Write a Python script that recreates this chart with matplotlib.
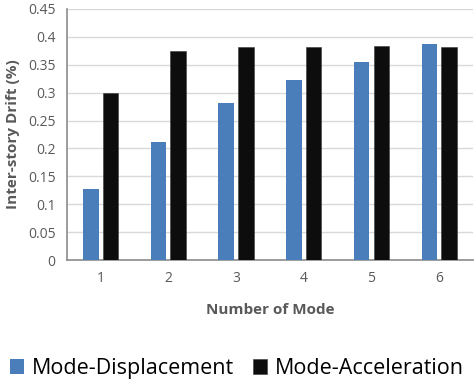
import numpy as np
import matplotlib
matplotlib.use("Agg")
import matplotlib.pyplot as plt

plt.rcParams["font.family"] = ["Open Sans", "DejaVu Sans"]

modes = ["1", "2", "3", "4", "5", "6"]
mode_displacement = [0.127, 0.211, 0.281, 0.323, 0.355, 0.387]
mode_acceleration = [0.300, 0.375, 0.382, 0.382, 0.383, 0.382]

fig = plt.figure(figsize=(4.74, 3.87), dpi=100)
ax = fig.add_axes([0.141, 0.328, 0.857, 0.649])

x = np.arange(1, len(modes) + 1)
w = 0.23
ax.bar(x - 0.145, mode_displacement, w, color="#4a7ebb", label="Mode-Displacement", zorder=3)
ax.bar(x + 0.145, mode_acceleration, w, color="#0d0d0d", edgecolor="#3a3a3a",
       linewidth=0.4, label="Mode-Acceleration", zorder=3)

ax.set_xlim(0.5, 6.5)
ax.set_ylim(0, 0.45)
ax.set_yticks(np.arange(0, 0.46, 0.05))
ax.set_yticklabels(["0", "0.05", "0.1", "0.15", "0.2", "0.25", "0.3", "0.35", "0.4", "0.45"])
ax.set_xticks(x)
ax.set_xticklabels(modes)
ax.grid(axis="y", color="#d9d9d9", linewidth=1, zorder=0)
ax.tick_params(length=0, labelsize=10, colors="#595959", pad=8)
for s in ["top", "right"]:
    ax.spines[s].set_visible(False)
for s in ["left", "bottom"]:
    ax.spines[s].set_color("#8c8c8c")
    ax.spines[s].set_linewidth(1.2)

ax.set_xlabel("Number of Mode", fontsize=11, fontweight="bold", color="#595959", labelpad=12)
ax.set_ylabel("Inter-story Drift (%)", fontsize=11, fontweight="bold", color="#595959", labelpad=6)

fig.legend(loc="lower center", bbox_to_anchor=(0.5, -0.03), ncol=2, frameon=False,
           fontsize=15.5, handlelength=0.65, handleheight=0.65, handletextpad=0.35,
           columnspacing=0.9)

fig.savefig("out.png", dpi=100)
